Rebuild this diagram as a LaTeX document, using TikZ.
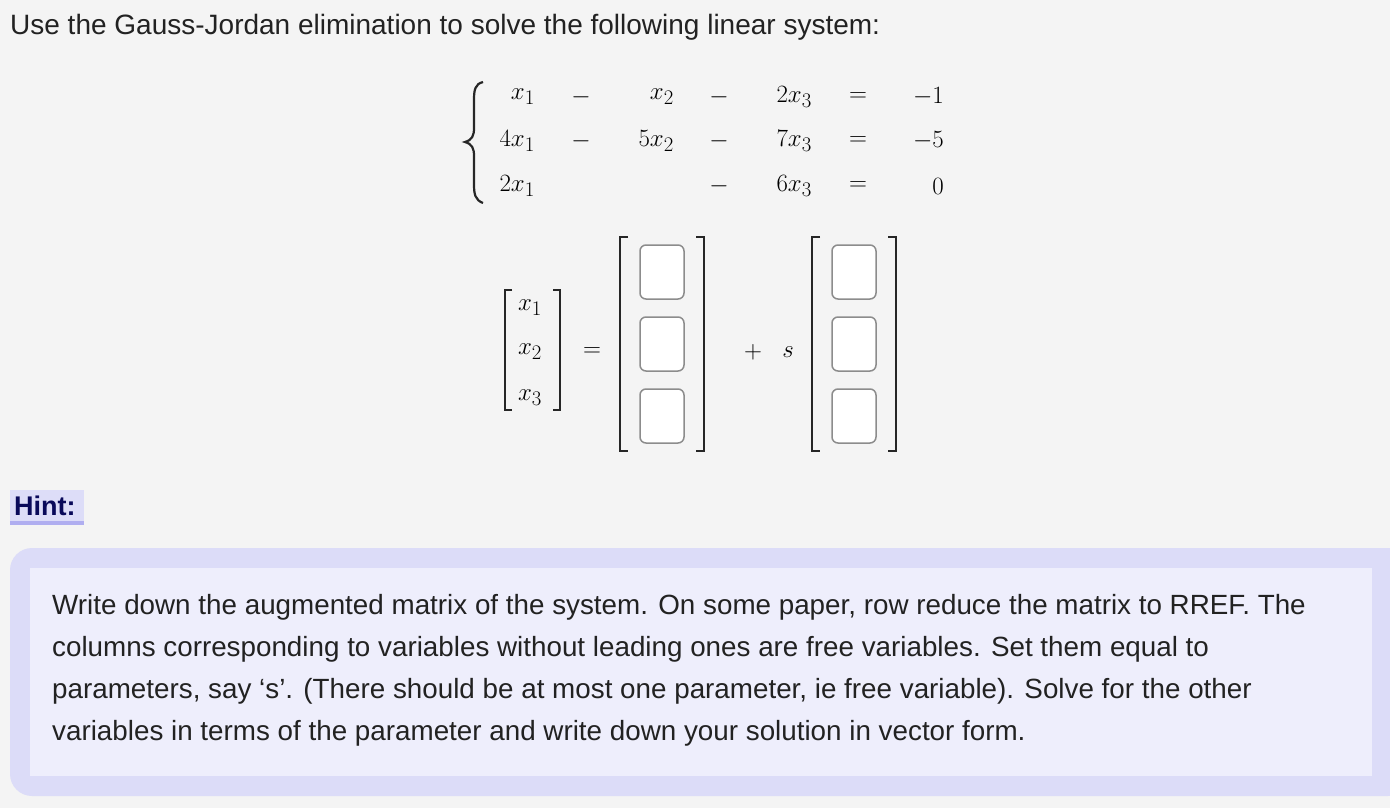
\documentclass[tikz,border=0pt]{standalone}
\usepackage{fontspec}
\setmainfont{Liberation Sans}
\usepackage{amsmath}
\definecolor{bg}{HTML}{F4F4F4}
\definecolor{hintouter}{HTML}{DCDCF8}
\definecolor{hintinner}{HTML}{EEEEFC}
\definecolor{hintlab}{HTML}{DDDDF8}
\definecolor{hintline}{HTML}{B0AEF0}
\definecolor{navy}{HTML}{0A0A5A}
\definecolor{txt}{HTML}{222222}
\begin{document}
\begin{tikzpicture}[x=1pt,y=-1pt,
  m/.style={inner sep=0pt,font=\fontsize{29}{34}\selectfont},
  ansbox/.style={draw=gray!90,line width=1.5pt,fill=white,rounded corners=6pt,minimum width=44pt,minimum height=54pt,inner sep=0pt},
  brk/.style={line width=2pt,draw=black!85},
  para/.style={font=\fontsize{27.8}{42}\selectfont,text=txt,anchor=north west,inner sep=0pt,align=left}]
\fill[bg] (0,0) rectangle (1390,808);
\useasboundingbox (0,0) rectangle (1390,808);
\node[anchor=west,inner sep=0pt,font=\fontsize{28}{32}\selectfont,text=txt] (title) at (10,27) {Use the Gauss-Jordan elimination to solve the following linear system:};
% system
\node[m,anchor=east] (a1) at (535,97) {$x_1$};
\node[m,anchor=east] (a2) at (535,141) {$4x_1$};
\node[m,anchor=east] (a3) at (535,186) {$2x_1$};
\node[m] (o11) at (581,97) {$-$};
\node[m] (o21) at (581,141) {$-$};
\node[m,anchor=east] (b1) at (674,97) {$x_2$};
\node[m,anchor=east] (b2) at (674,141) {$5x_2$};
\node[m] (o12) at (719,97) {$-$};
\node[m] (o22) at (719,141) {$-$};
\node[m] (o32) at (719,186) {$-$};
\node[m,anchor=east] (c1) at (812,97) {$2x_3$};
\node[m,anchor=east] (c2) at (812,141) {$7x_3$};
\node[m,anchor=east] (c3) at (812,186) {$6x_3$};
\node[m] (e1) at (858,97) {$=$};
\node[m] (e2) at (858,141) {$=$};
\node[m] (e3) at (858,186) {$=$};
\node[m,anchor=east] (r1) at (944,97) {$-1$};
\node[m,anchor=east] (r2) at (944,141) {$-5$};
\node[m,anchor=east] (r3) at (944,186) {$0$};
\coordinate (bt) at (483,82);
\coordinate (bm) at (465,142);
\coordinate (bb) at (483,203);
\draw[line width=2.2pt,draw=black!85] (bt) .. controls (475,84) and (474,90) .. (474,100) -- (474,128) .. controls (474,136) and (472,140) .. (bm) .. controls (472,144) and (474,148) .. (474,156) -- (474,184) .. controls (474,194) and (475,200) .. (bb);
% vector
\node[m] (x1) at (530,308) {$x_1$};
\node[m] (x2) at (530,352) {$x_2$};
\node[m] (x3) at (530,398) {$x_3$};
\draw[brk] (512,290) -- (505,290) -- (505,410) -- (512,410);
\draw[brk] (553,290) -- (560,290) -- (560,410) -- (553,410);
\node[m] (eq) at (592,352) {$=$};
\foreach \c/\bx in {p/662,q/854}{
  \node[ansbox] (\c1) at (\bx,272) {};
  \node[ansbox] (\c2) at (\bx,344) {};
  \node[ansbox] (\c3) at (\bx,416) {};
  \draw[brk] (\bx-34,237) -- (\bx-42,237) -- (\bx-42,451) -- (\bx-34,451);
  \draw[brk] (\bx+34,237) -- (\bx+42,237) -- (\bx+42,451) -- (\bx+34,451);
}
\node[m] (plus) at (753,352) {$+$};
\node[m] (s) at (788,352) {$s$};
% hint
\fill[hintlab] (10,490) rectangle (84,525);
\fill[hintline] (10,521) rectangle (84,525);
\node[anchor=west,inner sep=0pt,font=\fontsize{27}{30}\selectfont\bfseries,text=navy] (hint) at (14,506) {Hint:};
\fill[hintouter,rounded corners=22pt] (10,548) rectangle (1410,796);
\fill[hintinner] (30,568) rectangle (1372,776);
\node[para] (ptext) at (52,594) {Write down the augmented matrix of the system. On some paper, row reduce the matrix to RREF. The\\
columns corresponding to variables without leading ones are free variables. Set them equal to\\
parameters, say ‘s’. (There should be at most one parameter, ie free variable). Solve for the other\\
variables in terms of the parameter and write down your solution in vector form.};
\end{tikzpicture}
\end{document}
